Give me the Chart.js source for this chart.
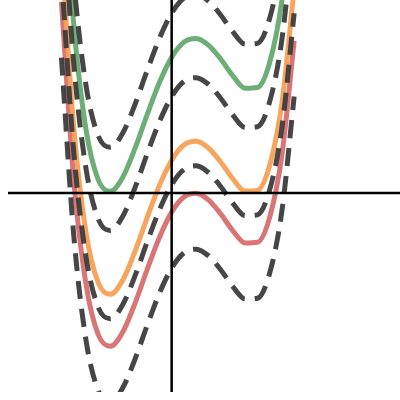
<!DOCTYPE html>
<html>
<head>
<meta charset="utf-8">
<script src="https://cdn.jsdelivr.net/npm/chart.js@4"></script>
<style>
html,body{margin:0;padding:0;background:#fff}
#wrap{width:400px;height:400px}
</style>
</head>
<body>
<div id="wrap"><canvas id="myChart"></canvas></div>
<script>
'use strict'
// base curve (orange one)
let xs=[-2.25,-2,-1.75,-1.5,-1.25,-1,-0.75,-0.5,-0.25,0,0.25,0.5,0.75,1,1.25,1.5,1.75,2,2.25,2.5]
let base=[9.93,2.72,-1.58,-3.65,-4.13,-3.56,-2.39,-1.0,0.31,1.34,1.96,2.11,1.84,1.27,0.58,0.08,0.11,1.13,3.67,8.34]
// vertical shifts of every copy
let solidShifts=[4.2,0,-2.12]
let solidColors=['rgba(100,170,110,0.95)','rgba(247,160,85,0.95)','rgba(215,110,110,0.95)']
let dashShifts=[6,2.6,-1,-4.4]

function pts(shift){
    return xs.map((x,i)=>({x:x,y:base[i]+shift}))
}

let datasets=[]
for (let i = 0; i < dashShifts.length; i++) {
    datasets.push({data:pts(dashShifts[i]),borderColor:'rgba(60,60,60,0.95)',borderWidth:5,borderDash:[18,10],pointRadius:0,fill:false,cubicInterpolationMode:'monotone'})
}
for (let i = 0; i < solidShifts.length; i++) {
    datasets.push({data:pts(solidShifts[i]),borderColor:solidColors[i],borderWidth:5,pointRadius:0,fill:false,cubicInterpolationMode:'monotone'})
}

// axis lines through the origin
let axesPlugin={
    id:'axesZero',
    afterDatasetsDraw(chart){
        let c=chart.ctx, a=chart.chartArea
        let x0=chart.scales.x.getPixelForValue(0), y0=chart.scales.y.getPixelForValue(0)
        c.save()
        c.strokeStyle='#000'
        c.lineWidth=2.5
        c.beginPath()
        c.moveTo(x0,a.top);c.lineTo(x0,a.bottom)
        c.moveTo(a.left,y0);c.lineTo(a.right,y0)
        c.stroke()
        c.restore()
    }
}

let ctx=document.getElementById('myChart').getContext('2d')
new Chart(ctx,{
    type:'line',
    data:{datasets:datasets},
    plugins:[axesPlugin],
    options:{
        responsive:true,
        maintainAspectRatio:false,
        animation:false,
        layout:{padding:0},
        plugins:{legend:{display:false},tooltip:{enabled:false}},
        scales:{
            x:{type:'linear',min:-3.34,max:4.66,ticks:{display:false},grid:{display:false},border:{display:false}},
            y:{min:-8.12,max:7.88,ticks:{display:false},grid:{display:false},border:{display:false}}
        }
    }
})
</script>
</body>
</html>
